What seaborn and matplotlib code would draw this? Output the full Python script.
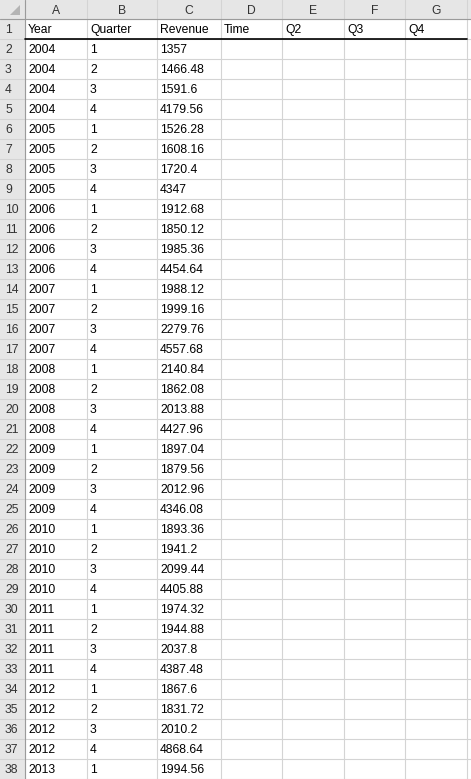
import matplotlib
matplotlib.use("Agg")
import matplotlib.pyplot as plt
import seaborn as sns
from matplotlib.patches import Rectangle, Polygon

sns.set_style("white")
plt.rcParams['font.family'] = ['Liberation Sans', 'DejaVu Sans']

col_letters = ["A", "B", "C", "D", "E", "F", "G"]
header_row = ["Year", "Quarter", "Revenue", "Time", "Q2", "Q3", "Q4"]
years = [2004]*4 + [2005]*4 + [2006]*4 + [2007]*4 + [2008]*4 + [2009]*4 + [2010]*4 + [2011]*4 + [2012]*4 + [2013]
quarters = [1, 2, 3, 4]*9 + [1]
revenue = ["1357", "1466.48", "1591.6", "4179.56", "1526.28", "1608.16", "1720.4", "4347",
           "1912.68", "1850.12", "1985.36", "4454.64", "1988.12", "1999.16", "2279.76", "4557.68",
           "2140.84", "1862.08", "2013.88", "4427.96", "1897.04", "1879.56", "2012.96", "4346.08",
           "1893.36", "1941.2", "2099.44", "4405.88", "1974.32", "1944.88", "2037.8", "4387.48",
           "1867.6", "1831.72", "2010.2", "4868.64", "1994.56"]

W, H = 471, 779
fig = plt.figure(figsize=(W/100, H/100), dpi=100)
ax = fig.add_axes([0, 0, 1, 1])
ax.set_xlim(0, W)
ax.set_ylim(H, 0)
ax.axis("off")

col_x = [25, 87, 157, 221, 282, 344, 405, 467]
hdr_h = 19
row_h = 20
nrows = 38
grid = "#d4d4d4"
hdr_bg = "#e6e6e6"
fs = 8.7

ax.add_patch(Rectangle((0, 0), W, hdr_h, color=hdr_bg, lw=0))
ax.add_patch(Rectangle((0, 0), col_x[0], H, color=hdr_bg, lw=0))
ax.add_patch(Polygon([[20, 5], [20, 15], [10, 15]], closed=True, color="#b4b4b4", lw=0))

for x in col_x:
    ax.plot([x, x], [0, H], color=grid, lw=0.8)
for r in range(nrows + 1):
    y = hdr_h + r * row_h
    ax.plot([0, W], [y, y], color=grid, lw=0.8)
ax.plot([0, W], [hdr_h, hdr_h], color="#9b9b9b", lw=0.8)
ax.plot([col_x[0], col_x[0]], [0, H], color="#9b9b9b", lw=0.8)
ax.plot([col_x[0], col_x[-1]], [hdr_h + row_h, hdr_h + row_h], color="black", lw=1.2)

for i, c in enumerate(col_letters):
    ax.text((col_x[i] + col_x[i+1]) / 2, hdr_h / 2 + 1, c, ha="center", va="center", fontsize=fs, color="#333333")
for r in range(nrows):
    ax.text(5, hdr_h + (r + 0.5) * row_h + 1, str(r + 1), ha="left", va="center", fontsize=fs, color="#333333")

def put(r, c, s):
    ax.text(col_x[c] + 3, hdr_h + (r + 0.5) * row_h + 1, s, ha="left", va="center", fontsize=fs, color="black")

for c, s in enumerate(header_row):
    put(0, c, s)
for i in range(len(years)):
    put(i + 1, 0, str(years[i]))
    put(i + 1, 1, str(quarters[i]))
    put(i + 1, 2, revenue[i])

fig.savefig("out.png", dpi=100)
